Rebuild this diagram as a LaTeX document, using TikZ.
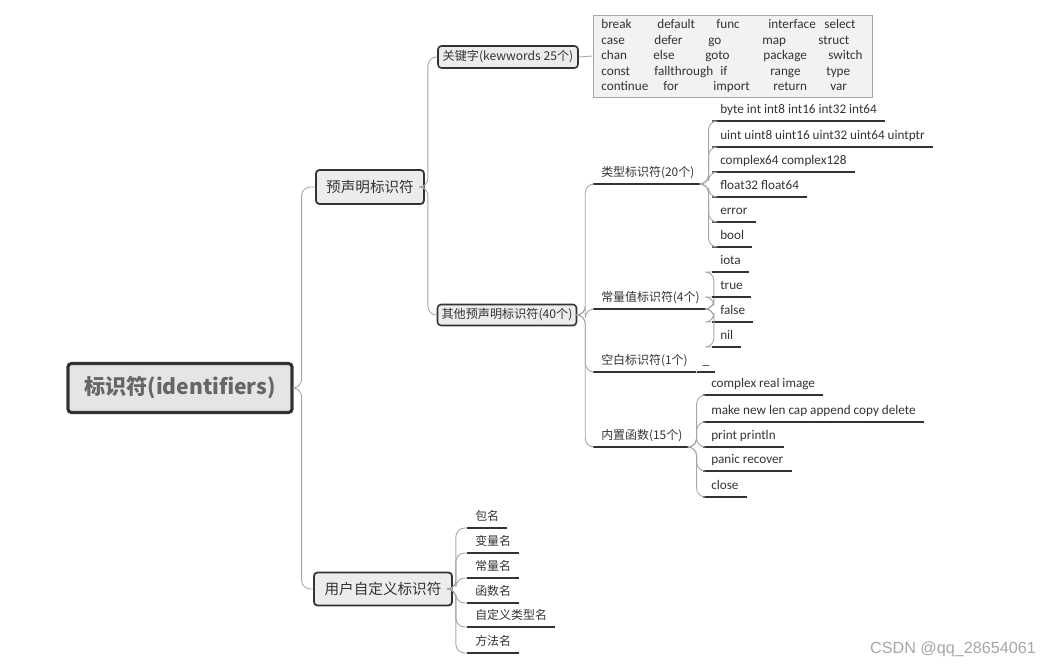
\documentclass[tikz,border=0pt]{standalone}
\usepackage{fontspec}
\setmainfont{Carlito}
\newfontfamily\cjk{Noto Sans CJK SC}
\newfontfamily\wmfont{Liberation Sans}
\usetikzlibrary{calc}

\begin{document}
\begin{tikzpicture}[x=0.2mm, y=-0.2mm, font=\fontsize{7.5}{9}\selectfont, text=black!80,
    conn/.style={draw=gray!70, line width=0.5pt, rounded corners=5pt},
    uline/.style={draw=black!80, line width=1.1pt},
    box/.style={draw=black!80, fill=gray!15, rounded corners=2pt, line width=1pt, inner sep=0pt},
    leaf/.style={anchor=south west, inner xsep=4.5pt, inner ysep=2pt, text height=6pt, text depth=2pt,
      append after command={(\tikzlastnode.south west) edge[uline] (\tikzlastnode.south east)}},
    sub/.style={leaf, font=\cjk\fontsize{6.8}{8}\selectfont},
    kwd/.style={anchor=base west, inner sep=0pt}]

    \useasboundingbox (0,0) rectangle (1050,668);

    % 1. 根节点和第一层
    \node[box, line width=1.8pt, fill=gray!20, minimum width=44.8mm, minimum height=9.8mm,
          font=\cjk\fontsize{12}{14}\selectfont\bfseries, text=black!60] (root) at (180,388) {标识符(identifiers)};
    \node[box, minimum width=21.6mm, minimum height=6.8mm, font=\cjk\fontsize{8.3}{10}\selectfont]
          (pre) at (370,187) {预声明标识符};
    \node[box, minimum width=27.6mm, minimum height=6.6mm, font=\cjk\fontsize{8.3}{10}\selectfont]
          (user) at (383,589) {用户自定义标识符};
    \draw[conn] (root.east) -- ++(8,0) |- (pre.west);
    \draw[conn] (root.east) -- ++(8,0) |- (user.west);

    % 2. 预声明标识符的两个分支
    \node[box, line width=0.9pt, minimum width=28mm, minimum height=4.4mm, font=\cjk\fontsize{6.9}{8}\selectfont]
          (kw) at (508,57) {关键字(kewwords 25个)};
    \node[box, line width=0.9pt, minimum width=27.8mm, minimum height=4.2mm, font=\cjk\fontsize{6.9}{8}\selectfont]
          (other) at (507,315) {其他预声明标识符(40个)};
    \draw[conn] (pre.east) -- ++(3,0) |- (kw.west);
    \draw[conn] (pre.east) -- ++(3,0) |- (other.west);

    % 3. 关键字表
    \node[draw=gray!70, fill=gray!10, minimum width=55.8mm, minimum height=16.4mm] (kwbox) at (732.5,56) {};
    \draw[conn] (kw.east) -- (kwbox.west);
    \foreach \w/\x/\y [count=\i] in {break/601/29, default/657/29, func/716/29, interface/768/29, select/824/29,
        case/601/45, defer/654/45, go/708/45, map/762/45, struct/818/45,
        chan/601/60, else/653/60, goto/705/60, package/763/60, switch/828/60,
        const/601/76, fallthrough/654/76, if/720/76, range/770/76, type/826/76,
        continue/601/91, for/663/91, import/713/91, return/773/91, var/830/91}{
      \node[kwd] (kw\i) at (\x,\y) {\w};
    }

    % 4. 其他预声明标识符
    \node[sub] (typ) at (593,184) {类型标识符(20个)};
    \node[sub] (const) at (593,309) {常量值标识符(4个)};
    \node[sub] (blank) at (593,372) {空白标识符(1个)};
    \node[sub] (func) at (593,447) {内置函数(15个)};
    \foreach \n in {typ, const, blank, func}{
      \draw[conn] (other.east) -- ++(8,0) |- (\n.south west);
    }

    \foreach \t/\y [count=\i] in {byte int int8 int16 int32 int64/121, uint uint8 uint16 uint32 uint64 uintptr/147,
        complex64 complex128/172, float32 float64/197, error/222, bool/247}{
      \node[leaf] (t\i) at (712,\y) {\t};
      \draw[conn] (typ.south east) -- ++(6,0) |- (t\i.south west);
    }
    \foreach \t/\y [count=\i] in {iota/272, true/297, false/322, nil/347}{
      \node[leaf] (c\i) at (712,\y) {\t};
      \draw[conn] (const.south east) -- ++(6,0) |- (c\i.south west);
    }
    \node[leaf, inner xsep=3pt] (us) at (697,372) {\_};
    \draw[conn] (blank.south east) -- (us.south west);
    \foreach \t/\y [count=\i] in {complex real image/395, make new len cap append copy delete/422,
        print println/447, panic recover/471, close/497}{
      \node[leaf] (b\i) at (703,\y) {\t};
      \draw[conn] (func.south east) -- ++(6,0) |- (b\i.south west);
    }

    % 5. 用户自定义标识符
    \foreach \t/\y [count=\i] in {包名/528, 变量名/553, 常量名/578, 函数名/603, 自定义类型名/627, 方法名/653}{
      \node[sub] (u\i) at (467,\y) {\t};
      \draw[conn] (user.east) -- ++(3,0) |- (u\i.south west);
    }

    \node[font=\wmfont\fontsize{9.2}{11}\selectfont, text=gray!70] (mark) at (953,649) {CSDN @qq\_28654061};

\end{tikzpicture}
\end{document}
